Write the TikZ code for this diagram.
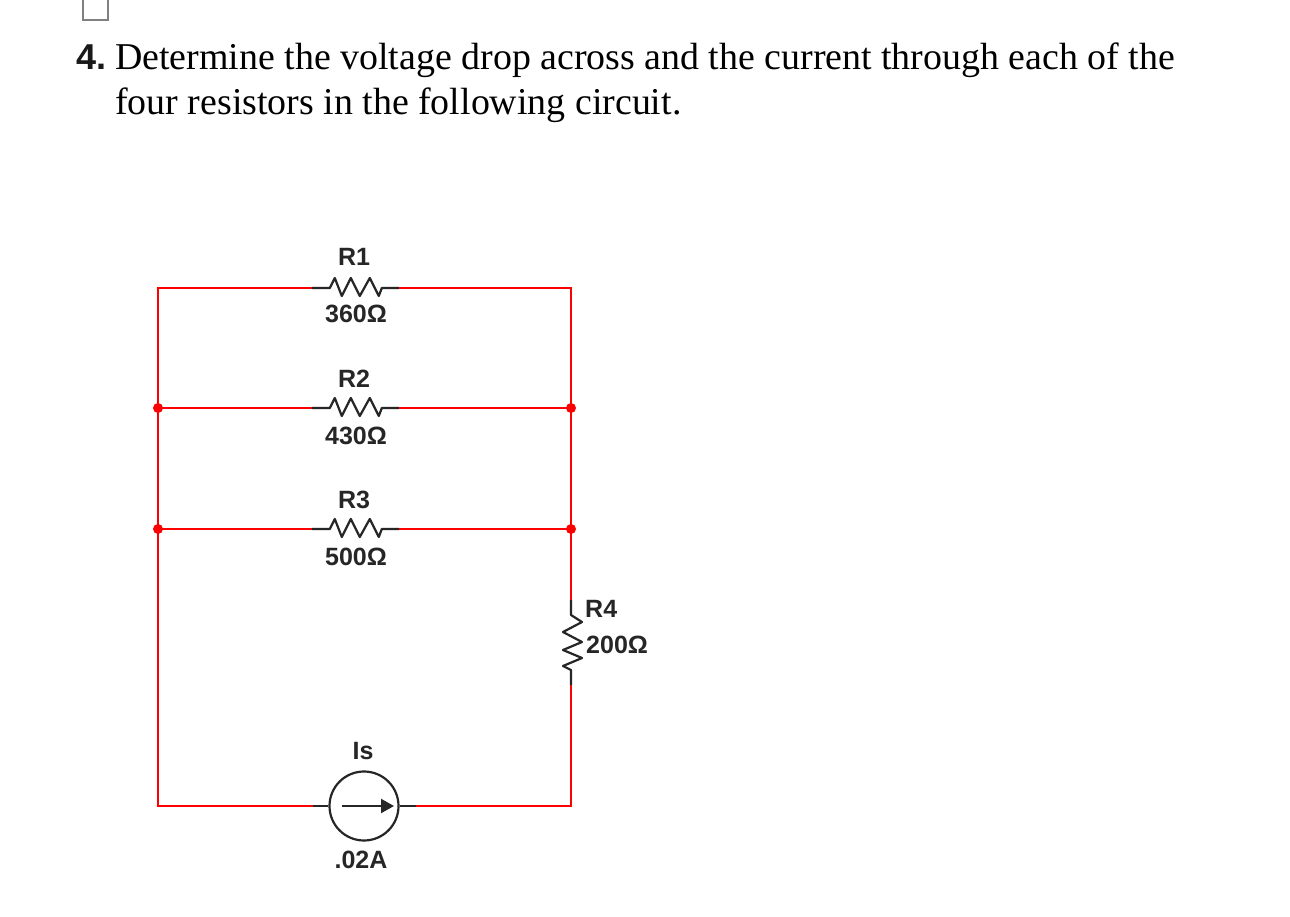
\documentclass[tikz,border=0pt]{standalone}
\usepackage{fontspec}
\setmainfont{Liberation Serif}
\newfontfamily\lab{Liberation Sans}
\usetikzlibrary{arrows.meta}
\tikzset{
  wire/.style={draw=red,line width=2pt,line join=miter},
  part/.style={draw=black!85,line width=2.2pt,line join=round},
  dot/.style={circle,fill=red,inner sep=0pt,minimum size=10pt},
  comp/.style={inner sep=0pt,minimum height=20pt},
  lbl/.style={font=\lab\bfseries\fontsize{25}{25}\selectfont,text=black!85,inner sep=0pt},
  body/.style={font=\fontsize{37.9}{37.9}\selectfont,text=black,inner sep=0pt,anchor=base west},
}
\newcommand{\hres}[3]{%
  \node[comp,minimum width=87pt] (#1) at (355.5,#2) {};
  \draw[part] (#1.west) -- ++(18,0) -- ++(5,-10) -- ++(7,18) -- ++(9,-18) -- ++(9,18) -- ++(10,-18) -- ++(9,18) -- ++(3,-8) -- (#1.east);
}
\begin{document}
\begin{tikzpicture}[x=1pt,y=-1pt]
\useasboundingbox (0,0) rectangle (1290,917);
\fill[white] (0,0) rectangle (1290,917);
% checkbox
\draw[draw=black!50,line width=1.2pt] (83,0) -- (83,20) -- (108,20) -- (108,0);
% question text
\node[anchor=base west,inner sep=0pt,font=\lab\bfseries\fontsize{36}{36}\selectfont,text=black!90] (num) at (76,70) {4.};
\node[body] (line1) at (115,70) {Determine the voltage drop across and the current through each of the};
\node[body] (line2) at (115,115) {four resistors in the following circuit.};
% components
\hres{R1}{288}{}
\hres{R2}{408}{}
\hres{R3}{529}{}
\node[comp,minimum width=20pt,minimum height=85pt] (R4) at (571,642.5) {};
\draw[part] (R4.north) -- (571,615) -- (582,622) -- (563,632) -- (582,642) -- (563,650) -- (582,658) -- (563,666) -- (571,670) -- (R4.south);
\node[comp,minimum width=103pt] (Is) at (364.5,806) {};
\node[circle,draw=black!85,line width=2.2pt,minimum size=69pt,inner sep=0pt] (IsC) at (364,806) {};
\draw[part] (Is.west) -- (IsC.west);
\draw[part] (IsC.east) -- (Is.east);
\coordinate (arrowS) at (342,806);
\coordinate (arrowE) at (394,806);
\draw[part,-{Triangle[length=13pt,width=14pt]}] (arrowS) -- (arrowE);
% junctions and corners
\node[dot] (J2L) at (158,408) {};
\node[dot] (J2R) at (571,408) {};
\node[dot] (J3L) at (158,529) {};
\node[dot] (J3R) at (571,529) {};
\coordinate (TL) at (158,288);
\coordinate (TR) at (571,288);
\coordinate (BL) at (158,806);
\coordinate (BR) at (571,806);
% wires
\draw[wire] (R1.west) -- (TL) -- (J2L.center) -- (J3L.center) -- (BL) -- (Is.west);
\draw[wire] (R1.east) -- (TR) -- (J2R.center) -- (J3R.center) -- (R4.north);
\draw[wire] (R4.south) -- (BR) -- (Is.east);
\draw[wire] (J2L.center) -- (R2.west);
\draw[wire] (R2.east) -- (J2R.center);
\draw[wire] (J3L.center) -- (R3.west);
\draw[wire] (R3.east) -- (J3R.center);
% labels
\node[lbl] (tR1) at (354,257) {R1};
\node[lbl] (vR1) at (356,314) {360Ω};
\node[lbl] (tR2) at (354,379) {R2};
\node[lbl] (vR2) at (356,436) {430Ω};
\node[lbl] (tR3) at (354,500) {R3};
\node[lbl] (vR3) at (356,557) {500Ω};
\node[lbl,anchor=west] (tR4) at (585,609) {R4};
\node[lbl,anchor=west] (vR4) at (586,645) {200Ω};
\node[lbl] (tIs) at (363,751) {Is};
\node[lbl] (vIs) at (361,860) {.02A};
\end{tikzpicture}
\end{document}
